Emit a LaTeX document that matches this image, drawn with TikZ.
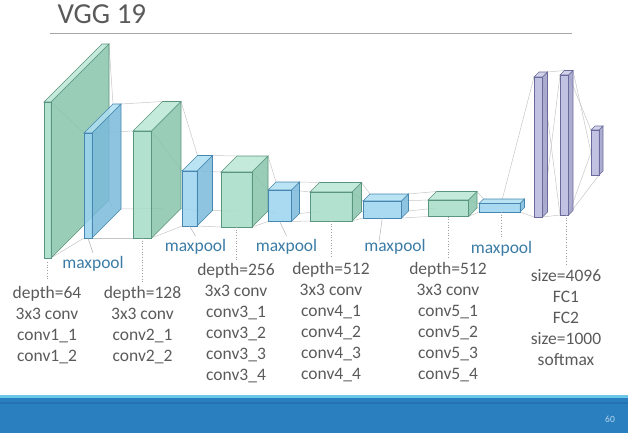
\documentclass[tikz,border=0pt]{standalone}
\usepackage{fontspec}
\setmainfont{Carlito}
\usetikzlibrary{backgrounds}

\definecolor{convfront}{HTML}{A5DDC7}
\definecolor{convside}{HTML}{88C4AB}
\definecolor{convtop}{HTML}{B9E6D3}
\definecolor{convedge}{HTML}{5A967F}
\definecolor{poolfront}{HTML}{9AD4EE}
\definecolor{poolside}{HTML}{7ABAD9}
\definecolor{pooltop}{HTML}{AEDEF2}
\definecolor{pooledge}{HTML}{4587B0}
\definecolor{fcfront}{HTML}{B6B6DC}
\definecolor{fcside}{HTML}{9D9DC9}
\definecolor{fctop}{HTML}{CACAE8}
\definecolor{fcedge}{HTML}{6A6A9C}
\definecolor{poolblue}{HTML}{3B7CA6}
\definecolor{infogray}{HTML}{5A5A5A}
\definecolor{titlegray}{HTML}{5A5A5A}
\definecolor{rulegray}{HTML}{A6A6A6}
\definecolor{bandblue}{HTML}{2A7FBF}
\definecolor{banddark}{HTML}{2572B0}
\definecolor{bandlight}{HTML}{6CC8EA}
\definecolor{pagenum}{HTML}{B5D5EE}

% #1 name, #2 x, #3 y, #4 width, #5 height, #6 depth, #7 colour
\newcommand{\cuboid}[7]{
  \coordinate (#1-a) at (#2,#3);
  \coordinate (#1-b) at ({#2+#4},#3);
  \coordinate (#1-c) at ({#2+#4},{#3+#5});
  \coordinate (#1-d) at (#2,{#3+#5});
  \coordinate (#1-ba) at ({#2+#6},{#3-#6});
  \coordinate (#1-bb) at ({#2+#4+#6},{#3-#6});
  \coordinate (#1-bc) at ({#2+#4+#6},{#3+#5-#6});
  \coordinate (#1-bd) at ({#2+#6},{#3+#5-#6});
  \coordinate (#1-m) at ({#2+#4/2},{#3+#5});
  \coordinate (#1-t) at ({#2+#4/2+#6/2},{#3-#6/2});
  \coordinate (#1-l) at (#2,{#3+#5/2});
  \filldraw[face, draw=#7edge, fill=#7side] (#1-b) -- (#1-bb) -- (#1-bc) -- (#1-c) -- cycle;
  \filldraw[face, draw=#7edge, fill=#7top] (#1-a) -- (#1-ba) -- (#1-bb) -- (#1-b) -- cycle;
  \filldraw[face, draw=#7edge, fill=#7front] (#1-a) rectangle (#1-c);
}

% corner lines between two layers
\newcommand{\joinlayers}[2]{
  \draw[link] (#1-b) -- (#2-a);
  \draw[link] (#1-c) -- (#2-d);
  \draw[link] (#1-bb) -- (#2-ba);
  \draw[link] (#1-bc) -- (#2-bd);
}

\begin{document}
\begin{tikzpicture}[x=1pt,y=-1pt,
  face/.style={line width=0.6pt, fill opacity=0.85},
  link/.style={draw=gray!45, line width=0.5pt},
  leader/.style={draw=gray!60, line width=0.5pt},
  tick/.style={draw=gray!75, dotted, line width=0.7pt},
  pool/.style={font=\fontsize{17.5}{21}\selectfont, text=poolblue},
  info/.style={font=\fontsize{17.5}{21}\selectfont, text=infogray, align=center, anchor=north}]
\useasboundingbox (0,0) rectangle (628,433);

% title
\node[anchor=west, font=\fontsize{29}{30}\selectfont, text=titlegray] (title) at (54,14) {VGG 19};
\draw[rulegray, line width=1.2pt] (50,33.5) -- (572,33.5);

% layers
\cuboid{c1}{44}{102}{7}{156}{58}{conv}
\cuboid{p1}{84}{133}{8}{105}{29}{pool}
\cuboid{c2}{133}{131}{18.5}{107}{29.5}{conv}
\cuboid{p2}{182}{171}{15}{55}{15.5}{pool}
\cuboid{c3}{221}{172}{31}{55}{16}{conv}
\cuboid{p3}{268}{190}{23.5}{31.5}{8}{pool}
\cuboid{c4}{310}{192}{42}{29}{9.5}{conv}
\cuboid{p4}{363}{201}{38.5}{17}{7}{pool}
\cuboid{c5}{428}{200}{40.5}{16.5}{8.5}{conv}
\cuboid{p5}{479}{203.5}{41}{8.5}{4.5}{pool}
\cuboid{f1}{534}{77}{8.5}{140}{5}{fc}
\cuboid{f2}{560}{75}{8.5}{140}{4.5}{fc}
\cuboid{f3}{591}{130}{8}{45}{4}{fc}

\begin{scope}[on background layer]
\joinlayers{c1}{p1}
\joinlayers{p1}{c2}
\joinlayers{c2}{p2}
\joinlayers{p2}{c3}
\joinlayers{c3}{p3}
\joinlayers{p3}{c4}
\joinlayers{c4}{p4}
\joinlayers{p4}{c5}
\joinlayers{c5}{p5}
\draw[link] (p5-t) -- (f1-a);
\draw[link] (p5-c) -- (f1-d);
\draw[link] (f1-bb) -- (f2-ba);
\draw[link] (f1-c) -- (f2-d);
\draw[link] (f1-b) -- (f2-d);
\draw[link] (f1-c) -- (f2-a);
\draw[link] (f2-bb) -- (f3-l);
\draw[link] (f2-b) -- (f3-a);
\draw[link] (f2-c) -- (f3-l);
\draw[link] (f2-c) -- (f3-c);
\end{scope}

% maxpool labels
\node[pool] (mp1) at (93,264) {maxpool};
\node[pool] (mp2) at (195.5,247) {maxpool};
\node[pool] (mp3) at (286.5,247) {maxpool};
\node[pool] (mp4) at (395,247) {maxpool};
\node[pool] (mp5) at (501.5,249) {maxpool};
\draw[leader] (p1-m) -- (mp1.north);
\draw[leader] (p2-m) -- (mp2.north);
\draw[leader] (p3-m) -- (mp3.north);
\draw[leader] (p4-m) -- ([xshift=-16pt,yshift=-6pt]mp4.north);
\draw[tick] (mp5.north |- p5-m) -- (mp5.north);

% layer groups
\node[info] (g1) at (47,283) {depth=64\\3x3 conv\\conv1\_1\\conv1\_2};
\node[info] (g2) at (142.5,283) {depth=128\\3x3 conv\\conv2\_1\\conv2\_2};
\node[info] (g3) at (236,260) {depth=256\\3x3 conv\\conv3\_1\\conv3\_2\\conv3\_3\\conv3\_4};
\node[info] (g4) at (331,258.5) {depth=512\\3x3 conv\\conv4\_1\\conv4\_2\\conv4\_3\\conv4\_4};
\node[info] (g5) at (448,258.5) {depth=512\\3x3 conv\\conv5\_1\\conv5\_2\\conv5\_3\\conv5\_4};
\node[info] (g6) at (566,266) {size=4096\\FC1\\FC2\\size=1000\\softmax};
\draw[tick] ([yshift=-4pt]g1.north |- c1-m) -- ([yshift=3pt]g1.north);
\draw[tick] (g2.north |- c2-m) -- (g2.north);
\draw[tick] (g3.north |- c3-m) -- (g3.north);
\draw[tick] (g4.north |- c4-m) -- (g4.north);
\draw[tick] (g5.north |- c5-m) -- (g5.north);
\draw[tick] (g6.north |- f2-c) -- (g6.north);

% footer band
\fill[bandlight] (0,394.5) rectangle (628,398);
\fill[bandblue] (0,398) rectangle (628,433);
\fill[banddark] (0,401.5) rectangle (628,404);
\node[font=\fontsize{9.5}{11}\selectfont, text=pagenum] (page) at (610,419) {60};
\end{tikzpicture}
\end{document}
